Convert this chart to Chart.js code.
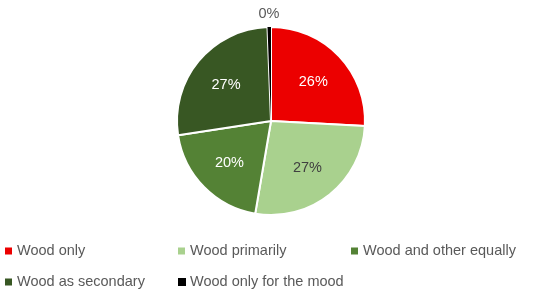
<!DOCTYPE html>
<html><head><meta charset="utf-8">
<script src="https://cdn.jsdelivr.net/npm/chart.js@4.4.1/dist/chart.umd.min.js"></script>
<style>html,body{margin:0;padding:0;background:#fff}#wrap{width:550px;height:296px}</style>
</head><body><div id="wrap"><canvas id="c" width="550" height="296"></canvas></div>
<script>
const categories = ['Wood only','Wood primarily','Wood and other equally','Wood as secondary','Wood only for the mood'];
const values = [26, 27, 20, 27, 0.6];
const valueLabels = ['26%','27%','20%','27%','0%'];
const colors = ['#EC0000','#A9D18E','#548235','#385723','#000000'];
const labelColors = ['#FFFFFF','#404040','#FFFFFF','#FFFFFF','#595959'];

const FONT = '"Liberation Sans", Arial, sans-serif';

const labelPlugin = {
  id: 'sliceLabels',
  afterDatasetsDraw(chart) {
    const ctx = chart.ctx;
    const meta = chart.getDatasetMeta(0);
    ctx.save();
    ctx.font = '14.5px ' + FONT;
    ctx.textAlign = 'center';
    ctx.textBaseline = 'middle';
    meta.data.forEach((arc, i) => {
      const p = arc.getProps(['x','y','startAngle','endAngle','outerRadius']);
      const mid = (p.startAngle + p.endAngle) / 2;
      const small = values[i] < 1;
      const r = small ? p.outerRadius + 14 : p.outerRadius * 0.62;
      ctx.fillStyle = labelColors[i];
      ctx.fillText(valueLabels[i], p.x + Math.cos(mid) * r, p.y + Math.sin(mid) * r + 1);
    });
    ctx.restore();
  }
};

const legendPlugin = {
  id: 'gridLegend',
  afterDraw(chart) {
    const ctx = chart.ctx;
    const cols = [5, 178, 351];
    const rows = [251, 282];
    ctx.save();
    ctx.font = '14.5px ' + FONT;
    ctx.textBaseline = 'middle';
    ctx.textAlign = 'left';
    chart.data.labels.forEach((lab, i) => {
      const x = cols[i % 3];
      const y = rows[Math.floor(i / 3)];
      const s = i === 4 ? 8 : 7;
      ctx.fillStyle = colors[i];
      ctx.fillRect(x, y - s / 2, s, s);
      ctx.fillStyle = '#595959';
      ctx.fillText(lab, x + 12, y);
    });
    ctx.restore();
  }
};

new Chart(document.getElementById('c'), {
  type: 'pie',
  data: {
    labels: categories,
    datasets: [{
      data: values,
      backgroundColor: colors,
      borderColor: '#FFFFFF',
      borderWidth: [2, 2, 2, 2, 0]
    }]
  },
  options: {
    responsive: false,
    animation: false,
    layout: { padding: { top: 26, bottom: 80, left: 0, right: 8 } },
    plugins: { legend: { display: false }, tooltip: { enabled: false } }
  },
  plugins: [labelPlugin, legendPlugin]
});
</script></body></html>
